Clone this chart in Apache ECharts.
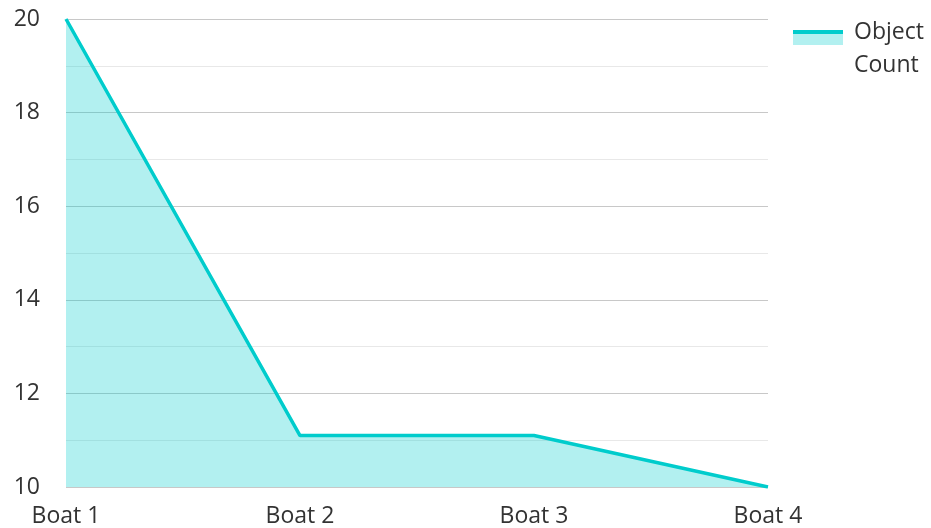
<!DOCTYPE html>
<html><head><meta charset="utf-8">
<script src="https://cdn.jsdelivr.net/npm/echarts@6/dist/echarts.min.js"></script>
<style>html,body{margin:0;padding:0;background:#fff}#c{width:931px;height:528px}</style>
</head><body><div id="c"></div>
<script>
const categories = ['Boat 1', 'Boat 2', 'Boat 3', 'Boat 4'];
const objectCount = [20, 11.1, 11.1, 10];
const seriesName = 'Object Count';

const chart = echarts.init(document.getElementById('c'));
chart.setOption({
  animation: false,
  textStyle: { fontFamily: 'Open Sans' },
  grid: { left: 66, right: 163, top: 19, bottom: 41, containLabel: false },
  legend: {
    left: 788, top: 10, orient: 'vertical',
    itemWidth: 50, itemHeight: 66,
    icon: 'rect',
    formatter: () => 'Object\nCount',
    textStyle: { fontSize: 23, color: '#333', lineHeight: 33, padding: [2, 0, 0, 6], fontFamily: 'Open Sans' },
    data: [{
      name: seriesName,
      itemStyle: {
        color: new echarts.graphic.LinearGradient(0, 0, 0, 1, [
          { offset: 0, color: 'rgba(255,255,255,0)' },
          { offset: 0.217, color: 'rgba(255,255,255,0)' },
          { offset: 0.217, color: '#00cccc' },
          { offset: 0.275, color: '#00cccc' },
          { offset: 0.275, color: '#b2f0f0' },
          { offset: 0.435, color: '#b2f0f0' },
          { offset: 0.435, color: 'rgba(255,255,255,0)' },
          { offset: 1, color: 'rgba(255,255,255,0)' }
        ])
      }
    }]
  },
  xAxis: {
    type: 'category', data: categories, boundaryGap: false,
    axisLine: { show: false }, axisTick: { show: false },
    axisLabel: { fontSize: 23, color: '#333', margin: 18, fontFamily: 'Open Sans' }
  },
  yAxis: {
    type: 'value', min: 10, max: 20, interval: 2,
    axisLine: { show: false }, axisTick: { show: false },
    axisLabel: { fontSize: 23, color: '#333', margin: 26, fontFamily: 'Open Sans' },
    splitLine: { lineStyle: { color: '#c8c8c8', width: 1 } },
    minorTick: { show: false, splitNumber: 2 },
    minorSplitLine: { show: true, lineStyle: { color: '#e8e8e8', width: 1 } }
  },
  series: [{
    name: seriesName, type: 'line', data: objectCount,
    symbol: 'none',
    lineStyle: { color: '#00cccc', width: 3.5 },
    itemStyle: { color: '#00cccc' },
    areaStyle: { color: 'rgba(0,204,204,0.3)', opacity: 1 }
  }]
});
</script></body></html>
